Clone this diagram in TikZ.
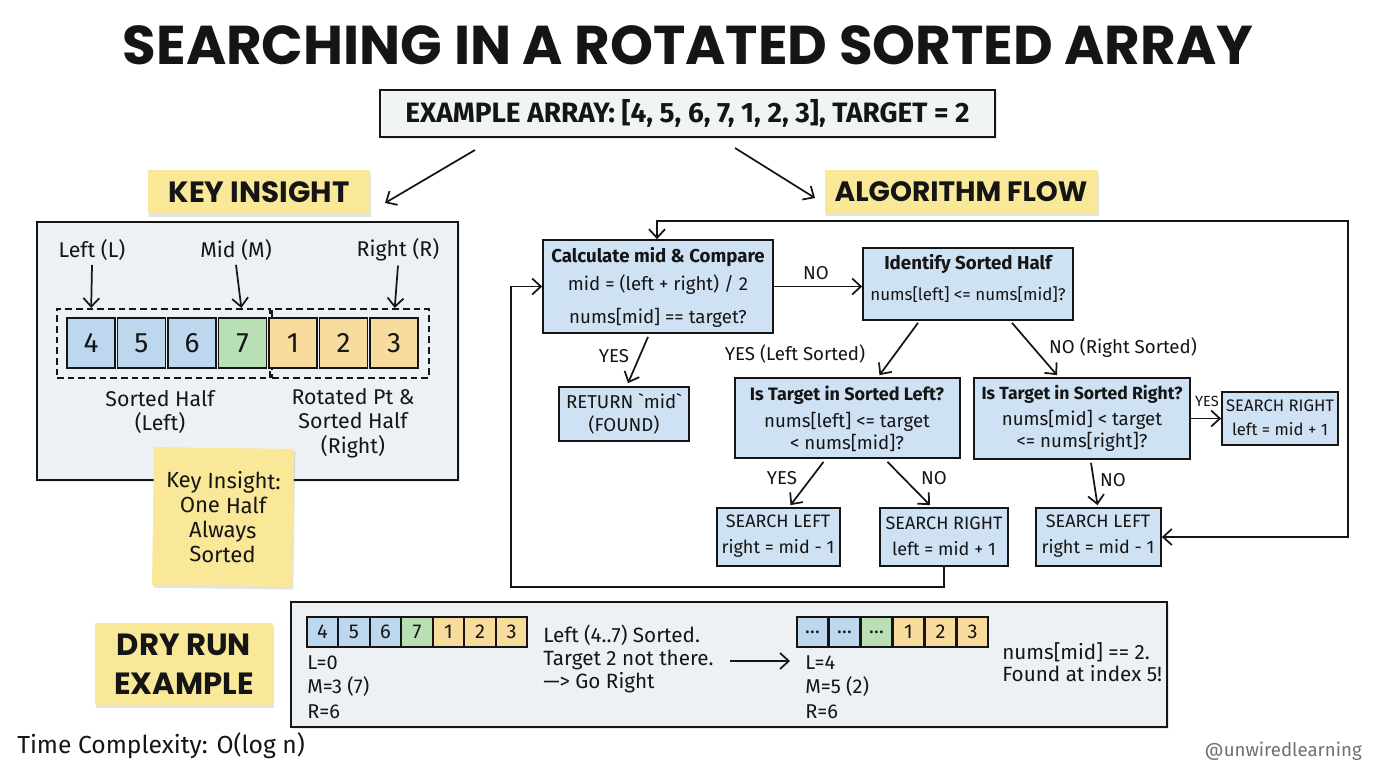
\documentclass[tikz,border=0pt]{standalone}
\usepackage{fontspec}
\setmainfont{Fira Sans}
\newfontfamily\titlefont{Poppins}
\usetikzlibrary{arrows.meta,shadows,fit,calc}
\definecolor{flowblue}{HTML}{CFE2F3}
\definecolor{cellblue}{HTML}{BDD7EE}
\definecolor{cellgreen}{HTML}{B9DFB4}
\definecolor{cellorange}{HTML}{F8DC9E}
\definecolor{sticky}{HTML}{F8E898}
\definecolor{panel}{HTML}{EEF1F3}
\definecolor{handle}{HTML}{707070}
\definecolor{ink}{HTML}{151515}
\tikzset{
  >={Straight Barb[length=6.5pt,width=12pt]},
  arr/.style={->, line width=1.3pt, draw=ink},
  flow/.style={draw=ink, fill=flowblue, line width=1.3pt, inner sep=0pt},
  panelbox/.style={draw=ink, fill=panel, line width=1.3pt, inner sep=0pt,
    drop shadow={opacity=0.18, shadow xshift=1.5pt, shadow yshift=-1.5pt}},
  note/.style={fill=sticky, inner sep=0pt, align=center, text=ink,
    drop shadow={opacity=0.22, shadow xshift=1pt, shadow yshift=-2pt}},
  txt/.style={inner sep=0pt, align=center, text=ink, font=\fontsize{14}{17}\selectfont},
  btxt/.style={txt, font=\bfseries\fontsize{14}{17}\selectfont},
  ktxt/.style={inner sep=0pt, align=center, text=ink, font=\fontsize{16}{18.5}\selectfont},
  dtxt/.style={inner sep=0pt, align=left, text=ink, font=\fontsize{15}{18.4}\selectfont},
  bigcell/.style={draw=ink, line width=1.1pt, minimum width=36pt, minimum height=37.5pt, inner sep=0pt, text=ink, font=\fontsize{21}{22}\selectfont},
  smcell/.style={draw=ink, line width=0.9pt, minimum width=23.25pt, minimum height=22.5pt, inner sep=0pt, text=ink, font=\fontsize{15}{16}\selectfont},
  dashbox/.style={draw=ink, line width=1.2pt, dash pattern=on 5pt off 3pt, inner sep=0pt},
}
\begin{document}
\begin{tikzpicture}[x=0.75pt,y=-0.75pt]
\useasboundingbox[fill=white] (0,0) rectangle (1376,768);

% Title
\node[text=ink, font=\titlefont\bfseries\fontsize{41}{44}\selectfont] (title) at (688,45) {SEARCHING IN A ROTATED SORTED ARRAY};

% Example box
\node[panelbox, fill=panel!80!white, minimum width=461.25pt, minimum height=35.25pt, font=\bfseries\fontsize{21}{24}\selectfont, text=ink] (ex) at (687.5,113.5) {EXAMPLE ARRAY: [4, 5, 6, 7, 1, 2, 3], TARGET = 2};

% Header notes
\node[note, font=\titlefont\bfseries\fontsize{22}{24}\selectfont, minimum width=166.5pt, minimum height=33pt] (kh) at (259,192) {KEY INSIGHT};
\node[note, font=\titlefont\bfseries\fontsize{21}{24}\selectfont, minimum width=204.75pt, minimum height=32.25pt] (af) at (961,191.5) {ALGORITHM FLOW};

\coordinate (ea1) at (475,150); \coordinate (ea2) at (385,203);
\coordinate (eb1) at (735,148); \coordinate (eb2) at (815,198);
\draw[arr] (ea1) -- (ea2);
\draw[arr] (eb1) -- (eb2);

% Key insight panel
\node[panelbox, fit={(37,222)(458,480)}] (kp) {};
\node[ktxt] (lL) at (92,250) {Left (L)};
\node[ktxt] (lM) at (236,250) {Mid (M)};
\node[ktxt] (lR) at (398,250) {Right (R)};
\node[dashbox, fit={(57,309)(270,378)}] (dl) {};
\node[dashbox, fit={(272,309)(429,378)}] (dr) {};
\foreach \v/\c [count=\i from 0] in {4/cellblue,5/cellblue,6/cellblue,7/cellgreen,1/cellorange,2/cellorange,3/cellorange}
  \node[bigcell, fill=\c] (k\i) at ({91+50.5*\i},343) {\v};
\draw[arr, shorten >=7pt] ([yshift=-3pt]lL.south) -- (k0.north);
\draw[arr, shorten >=7pt] ([yshift=-3pt]lM.south) -- (k3.north);
\draw[arr, shorten >=7pt] ([yshift=-3pt]lR.south) -- (k6.north);
\node[ktxt] (sh) at (160,412) {Sorted Half\\(Left)};
\node[ktxt] (rp) at (353,423) {Rotated Pt \&\\Sorted Half\\(Right)};
\node[note, ktxt, fill=sticky, minimum width=105pt, minimum height=103.5pt, rotate=-0.8, font=\fontsize{16.5}{18.5}\selectfont] (kn) at (223,517) {Key Insight:\\One Half\\Always\\Sorted};

% Flow boxes
\node[flow, fit={(543,240)(773,333)}] (calc) {};
\node[btxt] (calc1) at (658,257) {Calculate mid \& Compare};
\node[txt] (calc2) at (658,285) {mid = (left + right) / 2};
\node[txt] (calc3) at (658,318) {nums[mid] == target?};

\node[flow, fit={(863,248)(1073,320)}] (idn) {};
\node[btxt] (idn1) at (968,264) {Identify Sorted Half};
\node[txt, font=\fontsize{12.7}{16}\selectfont] (idn2) at (968,295) {nums[left] <= nums[mid]?};

\node[flow, fit={(559,387)(689,441)}] (ret) {};
\node[txt] (ret1) at (624,414) {RETURN \textasciigrave mid\textasciigrave\\(FOUND)};

\node[flow, fit={(735,378)(960,458)}] (isl) {};
\node[btxt, font=\bfseries\fontsize{13.5}{17}\selectfont] (isl1) at (847,395) {Is Target in Sorted Left?};
\node[txt] (isl2) at (847,432) {nums[left] <= target\\< nums[mid]?};

\node[flow, fit={(974,378)(1190,459)}] (isr) {};
\node[btxt, font=\bfseries\fontsize{13.2}{17}\selectfont] (isr1) at (1082,394) {Is Target in Sorted Right?};
\node[txt] (isr2) at (1082,431) {nums[mid] < target\\<= nums[right]?};

\node[flow, fit={(1222,392)(1338,445)}] (sr2) {};
\node[txt, font=\fontsize{12.5}{18}\selectfont] (sr2t) at (1280,418) {SEARCH RIGHT\\left = mid + 1};

\node[flow, fit={(717,508)(840,566)}] (sl1) {};
\node[txt, font=\fontsize{13.5}{19.5}\selectfont] (sl1t) at (778,536) {SEARCH LEFT\\right = mid - 1};
\node[flow, fit={(880,508)(1008,566)}] (sr1) {};
\node[txt, font=\fontsize{13.5}{19.5}\selectfont] (sr1t) at (944,536) {SEARCH RIGHT\\left = mid + 1};
\node[flow, fit={(1036,508)(1161,566)}] (sl2) {};
\node[txt, font=\fontsize{13.5}{19.5}\selectfont] (sl2t) at (1098,536) {SEARCH LEFT\\right = mid - 1};

% Flow connectors
\draw[arr] (calc.east) -- (calc.east -| idn.west);
\node[txt] (lno1) at (816,273) {NO};
\draw[arr] ($(calc.south)+(-10,3)$) -- ($(ret.north)+(4,-3)$);
\node[txt] (lyes1) at (614,356) {YES};
\draw[arr] ($(idn.south)+(-50,2)$) -- ($(isl.north)+(32,-2)$);
\node[txt] (lyls) at (795,354) {YES (Left Sorted)};
\draw[arr] ($(idn.south)+(44,2)$) -- ($(isr.north)+(-25,-2)$);
\node[txt] (lnrs) at (1123,348) {NO (Right Sorted)};
\draw[arr] (isr.east |- sr2.west) -- (sr2.west);
\node[txt, font=\fontsize{11}{13}\selectfont] (lyes2) at (1207,401) {YES};
\draw[arr] ($(isl.south)+(-24,3)$) -- ($(sl1.north)+(12,-2)$);
\node[txt] (lyes3) at (782,478) {YES};
\draw[arr] ($(isl.south)+(40,3)$) -- ($(sr1.north)+(-14,-2)$);
\node[txt] (lno2) at (934,478) {NO};
\draw[arr] ($(isr.south)+(9,3)$) -- ($(sl2.north)+(-1,-2)$);
\node[txt] (lno3) at (1113,480) {NO};

% Loops
\coordinate (ltr) at (1348,221);
\coordinate (ltl) at (657,221);
\coordinate (lbr) at (1348,537);
\draw[<->, line width=1.3pt, draw=ink] (sl2.east) -- (lbr) -- (ltr) -- (ltl) -- (ltl |- calc.north);
\coordinate (lbl) at (511,587);
\draw[arr] (sr1.south) |- (lbl) |- (calc.west);

% Dry run
\node[note, minimum width=133.5pt, minimum height=61.5pt, font=\titlefont\bfseries\fontsize{23}{29}\selectfont] (drn) at (184,664) {DRY RUN\\EXAMPLE};
\node[panelbox, fit={(291,602)(1167,727)}] (dp) {};
\foreach \v/\c [count=\i from 0] in {4/cellblue,5/cellblue,6/cellblue,7/cellgreen,1/cellorange,2/cellorange,3/cellorange}
  \node[smcell, fill=\c] (a\i) at ({322.5+31.5*\i},632) {\v};
\node[dtxt, anchor=north west] (st1) at (307,655) {L=0\\M=3 (7)\\R=6};
\node[dtxt, anchor=north west, font=\fontsize{15.5}{17.3}\selectfont] (dtx) at (543,625) {Left (4..7) Sorted.\\Target 2 not there.\\\textemdash> Go Right};
\coordinate (da1) at (730,661); \coordinate (da2) at (790,661);
\draw[arr] (da1) -- (da2);
\foreach \v/\c [count=\i from 0] in {\ldots/cellblue,\ldots/cellblue,\ldots/cellgreen,1/cellorange,2/cellorange,3/cellorange}
  \node[smcell, fill=\c] (b\i) at ({812.5+32*\i},632) {\v};
\node[dtxt, anchor=north west] (st2) at (805,655) {L=4\\M=5 (2)\\R=6};
\node[dtxt, anchor=west, font=\fontsize{15.5}{16.5}\selectfont] (found) at (1002,662) {nums[mid] == 2.\\Found at index 5!};

% Footer
\node[anchor=west, inner sep=0pt, text=ink, font=\fontsize{18.5}{20}\selectfont] (tc) at (17,746) {Time Complexity: O(log n)};
\node[anchor=east, inner sep=0pt, text=handle, font=\fontsize{14}{16}\selectfont] (hd) at (1362,751) {@unwiredlearning};
\end{tikzpicture}
\end{document}
